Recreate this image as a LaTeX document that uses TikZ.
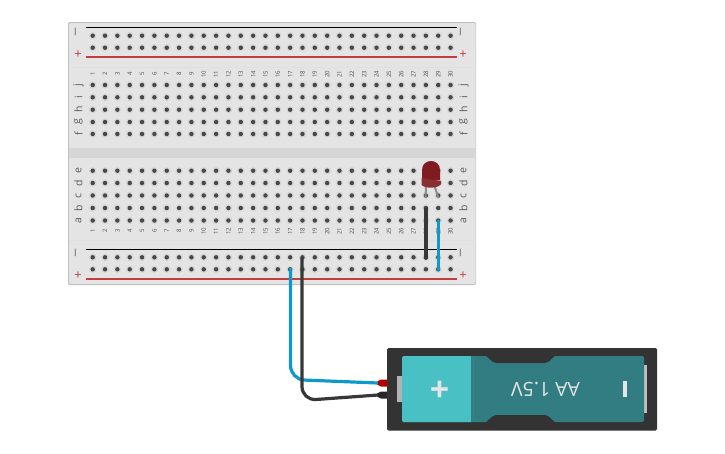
\documentclass[tikz,border=0pt]{standalone}
\usepackage{fontspec}
\setmainfont{Open Sans}
\definecolor{boardcol}{HTML}{E4E4E4}
\definecolor{groovecol}{HTML}{D6D6D6}
\definecolor{railred}{HTML}{C0403F}
\definecolor{wireblue}{HTML}{0E98CC}
\definecolor{wireblack}{HTML}{383838}
\definecolor{ledred}{HTML}{7F1C20}
\definecolor{battdark}{HTML}{333333}
\definecolor{battcyan}{HTML}{49C1C4}
\definecolor{battteal}{HTML}{327D82}
\tikzset{
	hole/.style={circle,fill=black!72,inner sep=0pt,minimum size=4.4pt},
	halo/.style={fill=black!17},
	num/.style={rotate=90,font=\fontsize{6}{6}\selectfont,text=black!70,inner sep=0pt},
	letter/.style={rotate=90,font=\fontsize{10.5}{10.5}\selectfont,text=black!65,inner sep=0pt},
	sign/.style={font=\fontsize{13}{13}\selectfont,inner sep=0pt},
	wire/.style={line width=3.2pt,rounded corners=14pt}
}
\begin{document}
\begin{tikzpicture}[x=1pt,y=-1pt]
	\useasboundingbox (0,0) rectangle (725,453);
	% board
	\fill[black!25,rounded corners=2pt] (68,22) rectangle (476,285);
	\fill[boardcol,rounded corners=2pt] (69,23) rectangle (475.5,284);
	\fill[groovecol] (69,148) rectangle (475.5,158);
	\draw[black!12,line width=0.8pt] (69,67) -- (475.5,67) (69,240) -- (475.5,240);
	% rails
	\draw[black,line width=1pt] (86,27.5) -- (457,27.5) (86,249.5) -- (457,249.5);
	\draw[railred,line width=1.3pt] (86,57) -- (457,57) (86,279) -- (457,279);
	% holes
	\foreach \y in {35.7,47.7,85,97.3,109.7,122,134,170.7,183,195.5,208,220.5,257.3,269.3}{
		\foreach \i in {1,...,30}{
			\fill[halo] ({92.7+(\i-1)*12.34},\y) circle (3.6pt);
			\node[hole] at ({92.7+(\i-1)*12.34},\y) {};
		}
	}
	% numbers
	\foreach \i in {1,...,30}{
		\node[num] (numt\i) at ({92.7+(\i-1)*12.34},74) {\i};
		\node[num] (numb\i) at ({92.7+(\i-1)*12.34},231) {\i};
	}
	% letters
	\foreach \t/\y in {j/85,i/97.3,h/109.7,g/122,f/134,e/170.7,d/183,c/195.5,b/208,a/220.5}{
		\node[letter] (letl\t) at (78.5,\y) {\t};
		\node[letter] (letr\t) at (463.5,\y) {\t};
	}
	% signs
	\foreach \n/\x in {l/78,r/463}{
		\node[sign,rotate=90,text=black!50,font=\fontsize{16}{16}\selectfont] (minust\n) at (\x,32) {−};
		\node[sign,rotate=90,text=black!50,font=\fontsize{16}{16}\selectfont] (minusb\n) at (\x,253) {−};
		\node[sign,text=railred] (plust\n) at (\x,55) {+};
		\node[sign,text=railred] (plusb\n) at (\x,276) {+};
	}
	% battery
	\fill[battdark,rounded corners=1.5pt] (387,348) rectangle (657,430.5);
	\fill[black!30] (397,376) rectangle (402,402);
	\fill[black!25] (644,365) rectangle (647,413);
	\fill[battteal,rounded corners=1.5pt] (402,356) rectangle (644,422);
	\fill[battcyan,rounded corners=1.5pt] (402,356) rectangle (473,422);
	\fill[battteal] (471,356) rectangle (473,422);
	\fill[battdark,rounded corners=2pt] (484,354) -- (557,354) -- (547,363) -- (494,363) -- cycle;
	\fill[battdark,rounded corners=2pt] (484,424) -- (557,424) -- (547,415) -- (494,415) -- cycle;
	\node[text=white!90!black,font=\bfseries\fontsize{34}{34}\selectfont,inner sep=0pt] (battplus) at (439.5,391.5) {+};
	\node[rotate=180,text=white!90!black,font=\fontsize{19.5}{19.5}\selectfont,inner sep=0pt] (battlabel) at (545.5,389) {AA 1.5V};
	\fill[white!90!black] (623,381) rectangle (627,397);
	% terminals
	\fill[red!70!black] (377,381.5) -- (381,379.5) -- (387,379.5) -- (387,386.5) -- (381,386.5) -- (377,384.5) -- cycle;
	\fill[black!85] (377,393.5) -- (381,391.5) -- (387,391.5) -- (387,398.5) -- (381,398.5) -- (377,396.5) -- cycle;
	\node[inner sep=0pt,minimum size=0pt] (termred) at (378,383) {};
	\node[inner sep=0pt,minimum size=0pt] (termblack) at (378,395) {};
	% wires
	\coordinate (bluetop) at (290.5,268);
	\coordinate (blacktop) at (302,257.5);
	\coordinate (bluecorner) at (290.5,379.5);
	\coordinate (blackcorner) at (302,400.5);
	\draw[wire,wireblue] (bluetop) -- (bluecorner) -- (termred);
	\draw[wire,wireblack] (blacktop) -- (blackcorner) -- (termblack);
	% led
	\coordinate (legaa) at (426,186);
	\coordinate (legab) at (425.5,198);
	\coordinate (legba) at (434.5,186);
	\coordinate (legbb) at (438.5,198);
	\draw[black!45,line width=2pt] (legaa) -- (legab) (legba) -- (legbb);
	\fill[ledred] (422,180) -- (422,170) .. controls (422,158) and (440,158) .. (440,170) -- (440,180) -- cycle;
	\fill[ledred!92!white] (421.5,178) -- (441,181) -- (441,184) .. controls (438,188.5) and (426,189) .. (421.5,185) -- cycle;
	% led jumpers
	\coordinate (jumpaa) at (425.9,209);
	\coordinate (jumpab) at (425.9,258);
	\coordinate (jumpba) at (438.2,221);
	\coordinate (jumpbb) at (438.2,270);
	\draw[wireblack,line width=3.6pt,line cap=round] (jumpaa) -- (jumpab);
	\draw[wireblue,line width=3.4pt,line cap=round] (jumpba) -- (jumpbb);
\end{tikzpicture}
\end{document}
